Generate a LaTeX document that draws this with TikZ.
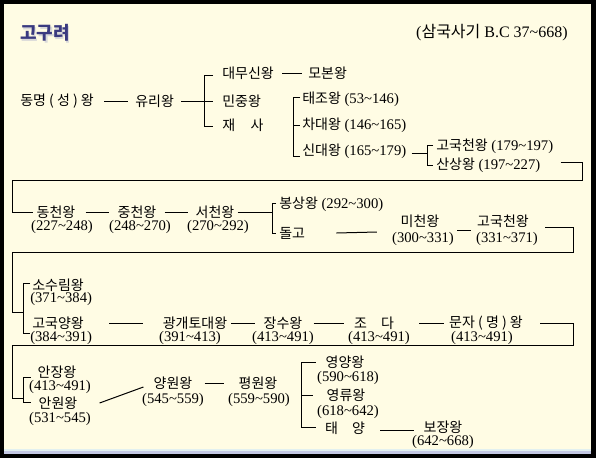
\documentclass[tikz,border=0pt]{standalone}
\usepackage{fontspec}
\setmainfont{Liberation Serif}
\newfontfamily\krfont{Noto Sans CJK KR}
\usepackage{tikz}
\usetikzlibrary{calc}
\definecolor{paper}{RGB}{255,252,228}
\definecolor{titleblue}{RGB}{58,58,128}
\definecolor{edgecyan}{RGB}{226,240,240}
\definecolor{edgeblue}{RGB}{196,200,228}
\newcommand{\krtxt}[1]{{\fontsize{10.5}{13}\krfont #1}}
\newcommand{\yrs}[2]{(#1\textasciitilde#2)}

\begin{document}
\begin{tikzpicture}[x=0.75pt,y=0.75pt,yscale=-1,xscale=1,
    every node/.style={inner sep=0pt, font=\fontsize{11}{13}\selectfont},
    kname/.style={font=\fontsize{10.5}{13}\krfont},
    link/.style={line width=0.75pt}]
        \useasboundingbox (0,0) rectangle (596,458);
        \fill[black] (0,0) rectangle (596,458);
        \fill[paper] (4,4) rectangle (591,449);
        \fill[edgecyan] (4,449) rectangle (591,451);
        \fill[edgeblue] (4,451) rectangle (591,454);

        \node[kname, anchor=west, font=\fontsize{13.5}{15}\krfont\bfseries, text=gray!30] (titleShadow) at (21.5,34.5) {고구려};
        \node[kname, anchor=west, font=\fontsize{13.5}{15}\krfont\bfseries, text=titleblue] (title) at (20,33) {고구려};
        \node[anchor=east, font=\fontsize{12}{14}\selectfont] (source) at (568,33) {({\krfont 삼국사기} B.C 37\textasciitilde668)};

        \node[kname, anchor=west] (dongmyeong) at (20,101) {동명 ( 성 ) 왕};
        \node[kname, anchor=west] (yuri) at (135,101) {유리왕};
        \node[kname, anchor=west] (daemusin) at (222,73) {대무신왕};
        \node[kname, anchor=west] (mobon) at (308,73) {모본왕};
        \node[kname, anchor=west] (minjung) at (222,101) {민중왕};
        \node[kname, anchor=west] (jaesa) at (222,125) {재\hspace{1.1em}사};
        \node[anchor=west] (taejo) at (302,99) {\krtxt{태조왕} \yrs{53}{146}};
        \node[anchor=west] (chadae) at (302,125) {\krtxt{차대왕} \yrs{146}{165}};
        \node[anchor=west] (sindae) at (302,151) {\krtxt{신대왕} \yrs{165}{179}};
        \node[anchor=west] (gogukcheonA) at (436,146) {\krtxt{고국천왕} \yrs{179}{197}};
        \node[anchor=west] (sansang) at (436,165) {\krtxt{산상왕} \yrs{197}{227}};
        \coordinate (sindaeJ) at ($(sansang.west)+(-9,-12)$);
        \coordinate (wrapA) at (582,180);
        \coordinate (wallL) at (12,0);

        \draw[link] ($(dongmyeong.east)+(10,0)$) -- ($(yuri.west)+(-7,0)$);
        \draw[link] ($(yuri.east)+(7,0)$) -- ($(minjung.west)+(-9,0)$);
        \draw[link] ($(daemusin.east)+(8,0)$) -- ($(mobon.west)+(-6,0)$);
        \draw[link] ($(daemusin.west)+(-9,2)$) -| ($(jaesa.west)+(-18,1)$) -- ($(jaesa.west)+(-9,1)$);
        \draw[link] ($(taejo.west)+(-2,-2)$) -| ($(sindae.west)+(-9,5)$) -- ($(sindae.west)+(-2,5)$);
        \draw[link] ($(chadae.west)+(-9,0)$) -- ($(chadae.west)+(-2,0)$);
        \draw[link] ($(sindae.east)+(5,2)$) -- (sindaeJ);
        \draw[link] ($(gogukcheonA.west)+(-3,-1)$) -| ($(sansang.west)+(-9,0)$) -- ($(sansang.west)+(-3,0)$);

        \node[kname] (dongcheon) at (56,212) {동천왕};
        \node (dongcheonY) at (62,227) {\yrs{227}{248}};
        \node[kname] (jungcheon) at (137,212) {중천왕};
        \node (jungcheonY) at (140,227) {\yrs{248}{270}};
        \node[kname] (seocheon) at (215,212) {서천왕};
        \node (seocheonY) at (218,227) {\yrs{270}{292}};
        \node[anchor=west] (bongsang) at (279,204) {\krtxt{봉상왕} \yrs{292}{300}};
        \node[kname, anchor=west] (dolgo) at (279,233) {돌고};
        \node[kname] (micheon) at (420,221) {미천왕};
        \node (micheonY) at (423,239) {\yrs{300}{331}};
        \node[kname] (gogukcheonB) at (503,221) {고국천왕};
        \node (gogukcheonBY) at (507,239) {\yrs{331}{371}};
        \coordinate (bongsangJ) at ($(dolgo.west)+(-7,-21)$);
        \coordinate (wrapB) at (573,252);

        \draw[link] ($(sansang.east)+(20,-3)$) -| (wrapA) -| (wallL |- dongcheon) -- ($(dongcheon.west)+(-3,0)$);
        \draw[link] ($(dongcheon.east)+(10,0)$) -- ($(jungcheon.west)+(-8,0)$);
        \draw[link] ($(jungcheon.east)+(8,0)$) -- ($(seocheon.west)+(-7,0)$);
        \draw[link] ($(seocheon.east)+(3,0)$) -- (bongsangJ);
        \draw[link] ($(bongsang.west)+(-3,-1)$) -| ($(dolgo.west)+(-7,0)$) -- ($(dolgo.west)+(-3,0)$);
        \draw[link] ($(dolgo.east)+(31,0)$) -- ($(micheonY.west)+(-15,-7)$);
        \draw[link] ($(micheonY.east)+(3,-9)$) -- ($(gogukcheonBY.west)+(-5,-9)$);

        \node[kname, anchor=west] (sosurim) at (32,285) {소수림왕};
        \node[anchor=west] (sosurimY) at (30,299) {\yrs{371}{384}};
        \node[kname, anchor=west] (gogukyang) at (32,323) {고국양왕};
        \node[anchor=west] (gogukyangY) at (30,338) {\yrs{384}{391}};
        \node[kname] (gwanggaeto) at (195,323) {광개토대왕};
        \node (gwanggaetoY) at (190,338) {\yrs{391}{413}};
        \node[kname] (jangsu) at (283,323) {장수왕};
        \node (jangsuY) at (283,338) {\yrs{413}{491}};
        \node[kname] (joda) at (374,323) {조\hspace{1em}다};
        \node (jodaY) at (379,338) {\yrs{413}{491}};
        \node[kname] (munja) at (486,323) {문자 ( 명 ) 왕};
        \node (munjaY) at (482,338) {\yrs{413}{491}};
        \coordinate (sosurimJ) at ($(gogukyangY.west)+(-7,-26)$);
        \coordinate (wrapC) at (573,345);

        \draw[link] ($(gogukcheonB.east)+(16,6)$) -| (wrapB) -| (wallL |- sosurimJ) -- (sosurimJ);
        \draw[link] ($(sosurim.west)+(-2,-2)$) -| ($(gogukyangY.west)+(-7,-5)$) -- ($(gogukyangY.west)+(0,-5)$);
        \draw[link] ($(gogukyang.east)+(25,0)$) -- ($(gwanggaeto.west)+(-20,0)$);
        \draw[link] ($(gwanggaeto.east)+(4,0)$) -- ($(jangsu.west)+(-8,0)$);
        \draw[link] ($(jangsu.east)+(11,0)$) -- ($(joda.west)+(-10,0)$);
        \draw[link] ($(joda.east)+(25,0)$) -- ($(munja.west)+(-5,0)$);

        \node[kname] (anjang) at (57,372) {안장왕};
        \node (anjangY) at (60,387) {\yrs{413}{491}};
        \node[kname] (anwon) at (58,403) {안원왕};
        \node (anwonY) at (60,419) {\yrs{531}{545}};
        \node[kname] (yangwon) at (173,383) {양원왕};
        \node (yangwonY) at (173,400) {\yrs{545}{559}};
        \node[kname] (pyeongwon) at (258,383) {평원왕};
        \node (pyeongwonY) at (259,400) {\yrs{559}{590}};
        \node[kname] (yeongyang) at (345,362) {영양왕};
        \node (yeongyangY) at (348,378) {\yrs{590}{618}};
        \node[kname] (yeongnyu) at (346,395) {영류왕};
        \node (yeongnyuY) at (348,412) {\yrs{618}{642}};
        \node[kname] (taeyang) at (345,428) {태\hspace{1em}양};
        \node[kname] (bojang) at (443,427) {보장왕};
        \node (bojangY) at (443,442) {\yrs{642}{668}};
        \coordinate (anjangJ) at ($(anwonY.west)+(-5,-21)$);

        \draw[link] ($(munja.east)+(17,0)$) -| (wrapC) -| (wallL |- anjangJ) -- (anjangJ);
        \draw[link] ($(anwonY.west)+(2,-42)$) -| ($(anwonY.west)+(-5,-17)$) -- ($(anwonY.west)+(2,-17)$);
        \draw[link] ($(anwon.east)+(22,0)$) -- ($(yangwon.west)+(-10,4)$);
        \draw[link] ($(yangwon.east)+(12,0)$) -- ($(pyeongwon.west)+(-14,0)$);
        \draw[link] ($(yeongyangY.west)+(-1,-16)$) -| ($(yeongnyuY.west)+(-15,15)$) -- ($(yeongnyuY.west)+(-1,15)$);
        \draw[link] ($(yeongnyuY.west)+(-15,-17)$) -- ($(yeongnyuY.west)+(-4,-17)$);
        \draw[link] ($(taeyang.east)+(15,2)$) -- ($(bojang.west)+(-9,3)$);
    \end{tikzpicture}
\end{document}
